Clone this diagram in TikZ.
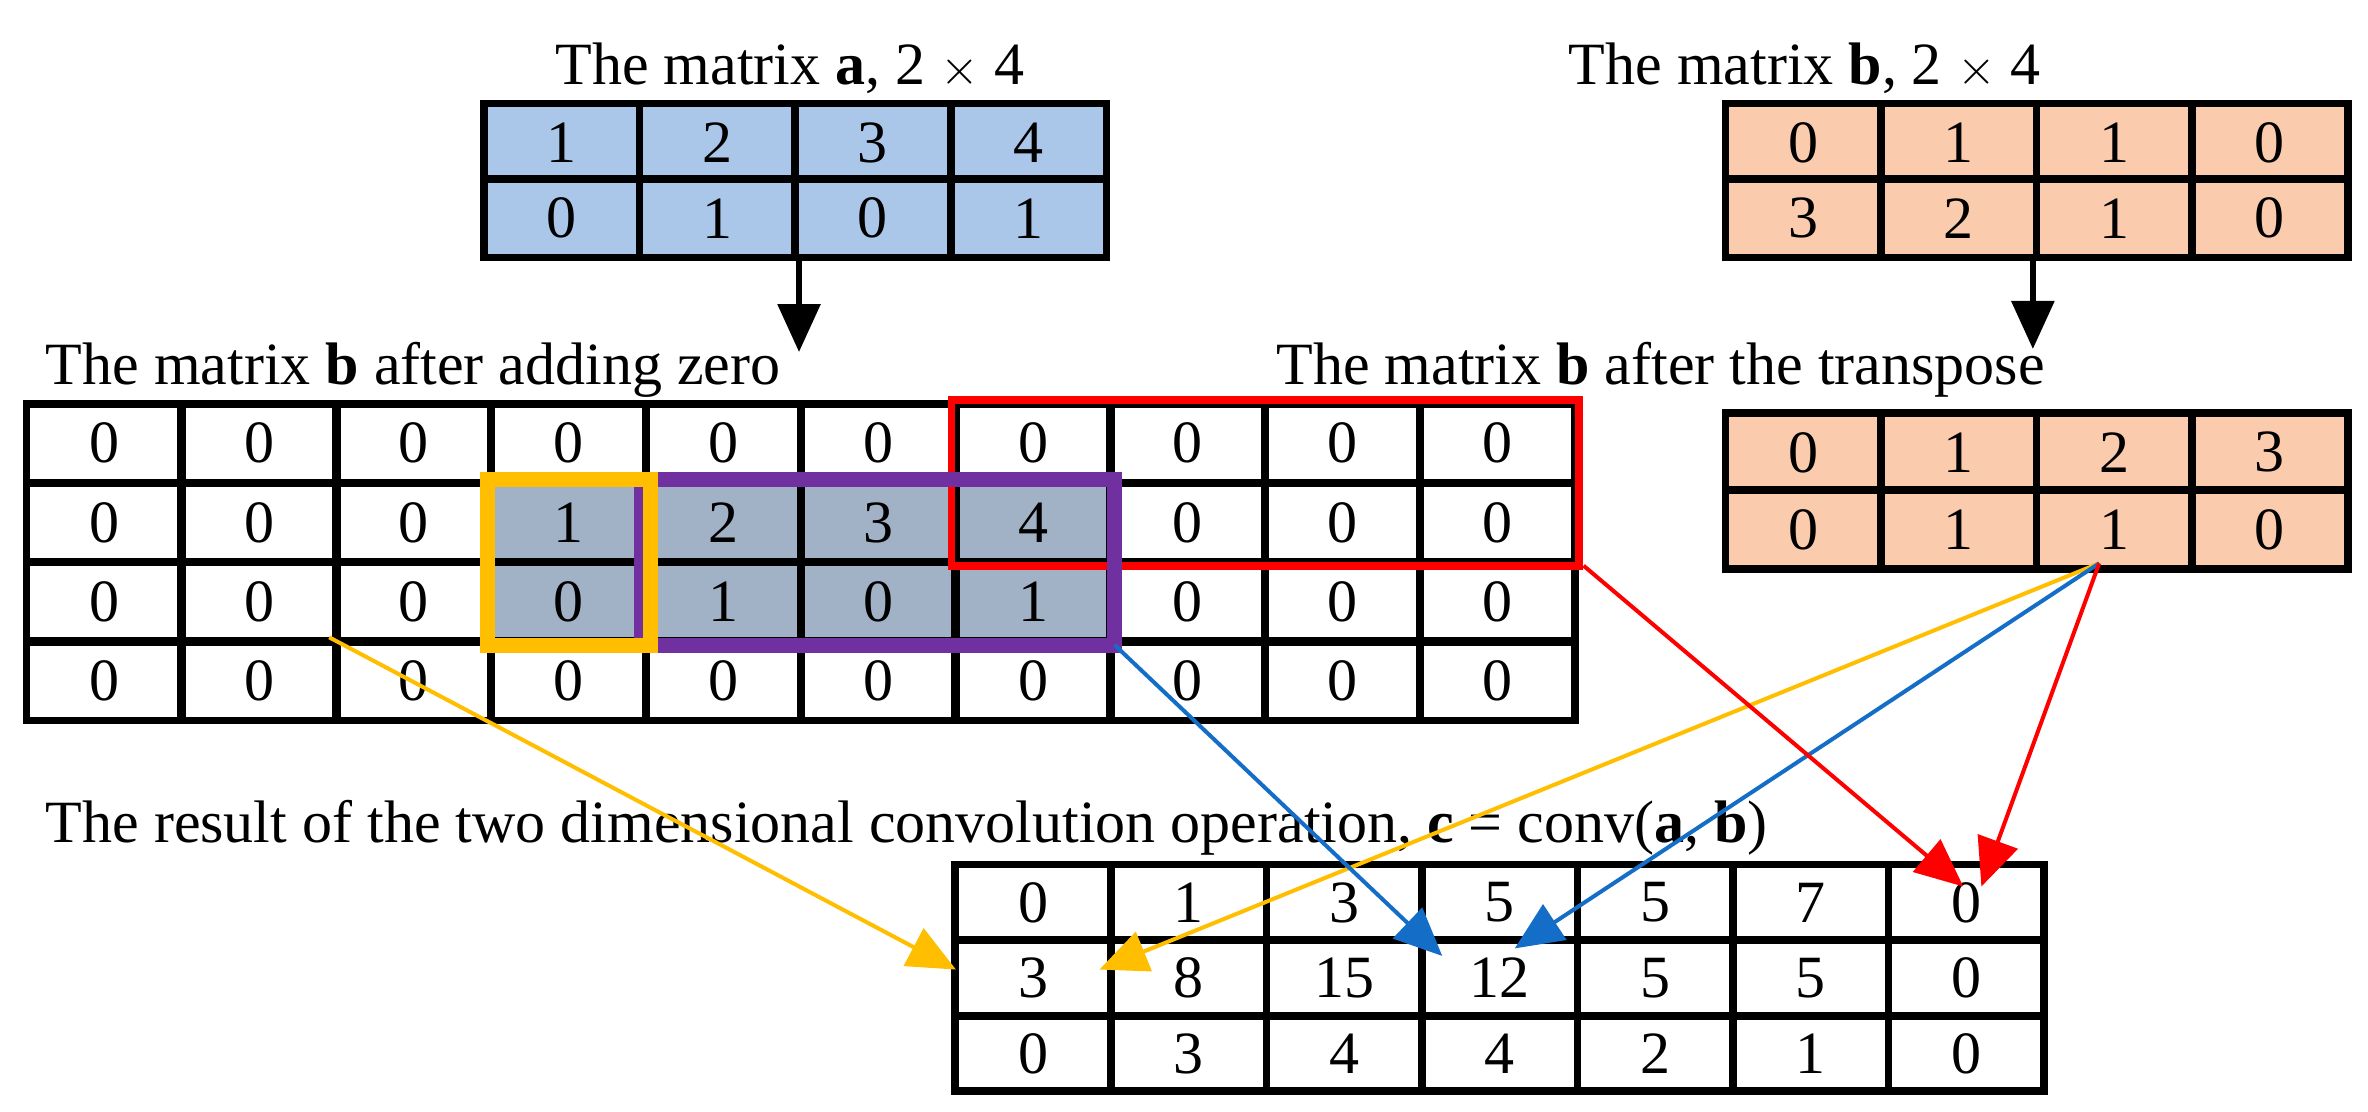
\documentclass[tikz,border=0pt]{standalone}
\usepackage{fontspec}
\setmainfont{Liberation Serif}
\usetikzlibrary{arrows.meta}
\definecolor{ablue}{RGB}{170,199,234}
\definecolor{borange}{RGB}{250,203,172}
\definecolor{hgray}{RGB}{162,178,198}
\definecolor{yel}{RGB}{255,190,0}
\definecolor{pur}{RGB}{112,48,160}
\definecolor{blu}{RGB}{20,110,200}
\tikzset{
 cell/.style={draw,line width=3.8pt,minimum width=77.8pt,minimum height=39.3pt,inner sep=0pt,font=\fontsize{30}{33}\selectfont,anchor=north west},
 lbl/.style={font=\fontsize{30}{33}\selectfont,inner sep=0pt},
 conn/.style={line width=2pt,-{Triangle[length=24pt,width=21pt]}}
}
\begin{document}
\begin{tikzpicture}[x=0.755pt,y=-0.755pt]
\useasboundingbox (0,0) rectangle (1568,736);
% matrix a
\foreach \r/\row in {0/{1,2,3,4},1/{0,1,0,1}}{
 \foreach \v [count=\c from 0] in \row {
  \node[cell,fill=ablue] (a\r\c) at (318+103*\c,66+50*\r) {\v};}}
\node[lbl] (la) at (523,45) {The matrix \textbf{a}, 2 $\times$ 4};
% matrix b
\foreach \r/\row in {0/{0,1,1,0},1/{3,2,1,0}}{
 \foreach \v [count=\c from 0] in \row {
  \node[cell,fill=borange] (b\r\c) at (1140+103*\c,66+50*\r) {\v};}}
\node[lbl] (lb) at (1195,45) {The matrix \textbf{b}, 2 $\times$ 4};
% transpose
\foreach \r/\row in {0/{0,1,2,3},1/{0,1,1,0}}{
 \foreach \v [count=\c from 0] in \row {
  \node[cell,fill=borange] (t\r\c) at (1140+103*\c,271+51*\r) {\v};}}
\node[lbl,anchor=west] (lt) at (845,245) {The matrix \textbf{b} after the transpose};
% padded
\fill[hgray] (320,317) rectangle (733,422);
\foreach \r/\row in {0/{0,0,0,0,0,0,0,0,0,0},1/{0,0,0,1,2,3,4,0,0,0},2/{0,0,0,0,1,0,1,0,0,0},3/{0,0,0,0,0,0,0,0,0,0}}{
 \foreach \v [count=\c from 0] in \row {
  \node[cell] (p\r\c) at (15+102.5*\c,265+52.5*\r) {\v};}}
\node[lbl,anchor=west] (lp) at (30,245) {The matrix \textbf{b} after adding zero};
\draw[red,line width=3.8pt] (p06.north west) rectangle (p19.south east);
\draw[pur,line width=7.5pt] (p14.north west) rectangle (p26.south east);
\draw[yel,line width=7.5pt] (p13.north west) rectangle (p23.south east);
% result
\foreach \r/\row in {0/{0,1,3,5,5,7,0},1/{3,8,15,12,5,5,0},2/{0,3,4,4,2,1,0}}{
 \foreach \v [count=\c from 0] in \row {
  \node[cell,minimum height=37.8pt] (c\r\c) at (630+103*\c,570+50*\r) {\v};}}
\node[lbl,anchor=west] (lc) at (30,548) {The result of the two dimensional convolution operation, \textbf{c} = conv(\textbf{a}, \textbf{b})};
% arrows
\draw[conn,line width=3pt] (a11.south east) -- ++(0,60);
\draw[conn,line width=3pt] (b11.south east) ++(-5,0) -- ++(0,58);
\coordinate (tp) at (1390,373);
\coordinate (y1) at (218,422);
\coordinate (y2) at (633,642);
\coordinate (y3) at (728,642);
\coordinate (bl2) at (955,633);
\coordinate (bl3) at (1003,628);
\coordinate (r2) at (1300,587);
\coordinate (r3) at (1312,587);
\draw[conn,yel] (y1) -- (y2);
\draw[conn,yel] (tp) -- (y3);
\draw[conn,blu] (p26.south east) -- (bl2);
\draw[conn,blu] (tp) -- (bl3);
\draw[conn,red] (p19.south east) ++(3,0) -- (r2);
\draw[conn,red] (tp) -- (r3);
\end{tikzpicture}
\end{document}
